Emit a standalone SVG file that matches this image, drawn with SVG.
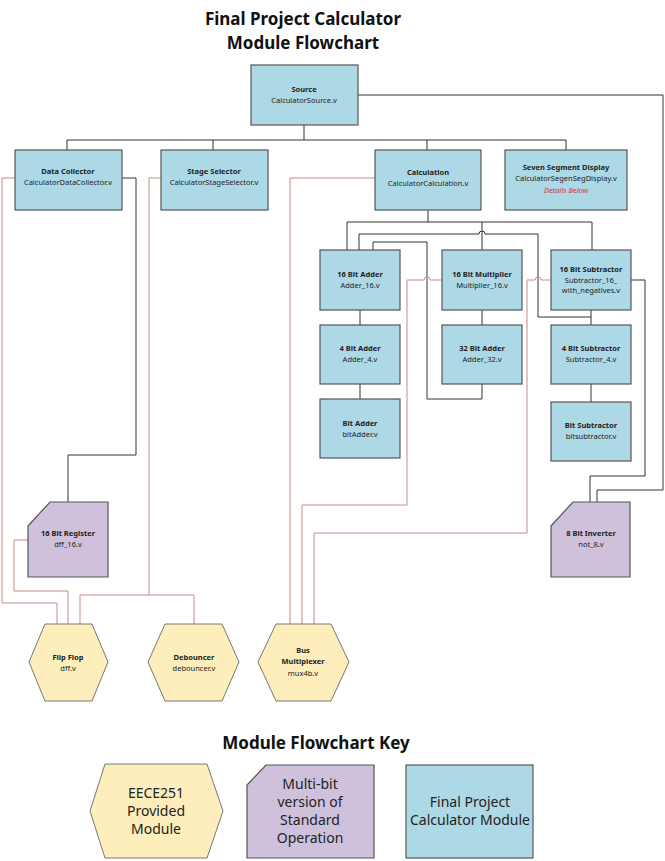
<svg xmlns="http://www.w3.org/2000/svg" width="665" height="861" viewBox="0 0 665 861">
<style>
text{font-family:"Noto Sans","Liberation Sans",sans-serif;fill:#222;text-anchor:middle}
.t{font-size:7.5px;font-weight:bold}
.f{font-size:7.5px}
.r{fill:#add8e6;stroke:#555;stroke-width:1.2}
.p{fill:#cfc0dc;stroke:#555;stroke-width:1.2}
.h{fill:#fdeebb;stroke:#777;stroke-width:1}
.k{fill:none;stroke:#333;stroke-width:1}
.c{fill:none;stroke:#c98b86;stroke-width:1}
.big{font-size:17px;font-weight:bold;fill:#111}
.key{font-size:14px}
</style>
<rect width="665" height="861" fill="#fff"/>
<text class="big" x="303" y="25">Final Project Calculator</text>
<text class="big" x="303" y="49">Module Flowchart</text>
<g id="connectors">
<path class="k" d="M304 125V140M67 150V140H566V150M213 140V150M427 140V150"/>
<path class="k" d="M358 95H663V490H597V502"/>
<path class="k" d="M428 210V222M347 250V222H592V250M482 222V250"/>
<path class="k" d="M359 250V234H479a3 3 0 0 1 6 0H538V317H591"/>
<path class="k" d="M373 250V242H427V399H482V384"/>
<path class="k" d="M360 310V325M360 384V399M482 310V325M591 310V325M591 384V402"/>
<path class="k" d="M631 280H645V476H590V502"/>
<path class="k" d="M122 178H136V455H68V502"/>
<path class="c" d="M28 540H14V591H68V624"/>
<path class="c" d="M15 178H2V603H57V624"/>
<path class="c" d="M161 178H149V595M80 624V595H194V624"/>
<path class="c" d="M375 178H290V624"/>
<path class="c" d="M442 280H430a3 3 0 0 0 -6 0H407V505H302V624"/>
<path class="c" d="M551 280H541a3 3 0 0 0 -6 0H527V533H314V624"/>
</g>
<g id="source"><rect class="r" x="251" y="65" width="107" height="60"/><text class="t" x="304" y="92">Source</text><text class="f" x="304" y="103">CalculatorSource.v</text></g>
<g id="datacollector"><rect class="r" x="15" y="150" width="107" height="60"/><text class="t" x="68" y="174">Data Collector</text><text class="f" x="68" y="185">CalculatorDataCollector.v</text></g>
<g id="stageselector"><rect class="r" x="161" y="150" width="107" height="60"/><text class="t" x="214" y="174">Stage Selector</text><text class="f" x="214" y="185">CalculatorStageSelector.v</text></g>
<g id="calculation"><rect class="r" x="375" y="150" width="106" height="60"/><text class="t" x="428" y="175">Calculation</text><text class="f" x="428" y="186">CalculatorCalculation.v</text></g>
<g id="sevenseg"><rect class="r" x="505" y="150" width="122" height="60"/><text class="t" x="566" y="170">Seven Segment Display</text><text class="f" x="566" y="181">CalculatorSegenSegDisplay.v</text><text class="f" x="566" y="193" style="fill:#d33;font-style:italic">Details Below</text></g>
<g id="adder16"><rect class="r" x="320" y="250" width="80" height="60"/><text class="t" x="360" y="277">16 Bit Adder</text><text class="f" x="360" y="288">Adder_16.v</text></g>
<g id="mult16"><rect class="r" x="442" y="250" width="80" height="60"/><text class="t" x="482" y="277">16 Bit Multiplier</text><text class="f" x="482" y="288">Multiplier_16.v</text></g>
<g id="sub16"><rect class="r" x="551" y="250" width="80" height="60"/><text class="t" x="591" y="272">16 Bit Subtractor</text><text class="f" x="591" y="283">Subtractor_16_</text><text class="f" x="591" y="293">with_negatives.v</text></g>
<g id="adder4"><rect class="r" x="320" y="325" width="80" height="59"/><text class="t" x="360" y="351">4 Bit Adder</text><text class="f" x="360" y="362">Adder_4.v</text></g>
<g id="adder32"><rect class="r" x="442" y="325" width="80" height="59"/><text class="t" x="482" y="351">32 Bit Adder</text><text class="f" x="482" y="362">Adder_32.v</text></g>
<g id="sub4"><rect class="r" x="551" y="325" width="80" height="59"/><text class="t" x="591" y="351">4 Bit Subtractor</text><text class="f" x="591" y="362">Subtractor_4.v</text></g>
<g id="bitadder"><rect class="r" x="320" y="399" width="80" height="59"/><text class="t" x="360" y="426">Bit Adder</text><text class="f" x="360" y="437">bitAdder.v</text></g>
<g id="bitsub"><rect class="r" x="551" y="402" width="80" height="59"/><text class="t" x="591" y="428">Bit Subtractor</text><text class="f" x="591" y="439">bitsubtractor.v</text></g>
<g id="register"><path class="p" d="M28 526L50 502H108V577H28Z"/><text class="t" x="68" y="536">16 Bit Register</text><text class="f" x="68" y="547">dff_16.v</text></g>
<g id="inverter"><path class="p" d="M551 526L573 502H630V577H551Z"/><text class="t" x="591" y="536">8 Bit Inverter</text><text class="f" x="591" y="547">not_8.v</text></g>
<g id="flipflop"><path class="h" d="M45 624H92L108 662L92 701H45L29 662Z"/><text class="t" x="68" y="660">Flip Flop</text><text class="f" x="68" y="671">dff.v</text></g>
<g id="debouncer"><path class="h" d="M165 624H222L239 662L222 701H165L148 662Z"/><text class="t" x="194" y="660">Debouncer</text><text class="f" x="194" y="671">debouncer.v</text></g>
<g id="busmux"><path class="h" d="M276 624H331L349 662L331 701H276L258 662Z"/><text class="t" x="303" y="653">Bus</text><text class="t" x="303" y="664">Multiplexer</text><text class="f" x="303" y="676">mux4b.v</text></g>
<text class="big" x="316" y="749">Module Flowchart Key</text>
<g id="key-provided"><path class="h" d="M105 764H207L223 811L207 858H105L90 811Z"/><text class="key" x="156" y="798">EECE251</text><text class="key" x="156" y="816">Provided</text><text class="key" x="156" y="834">Module</text></g>
<g id="key-multibit"><path class="p" d="M247 785L266 765H374V858H247Z"/><text class="key" x="310" y="789">Multi-bit</text><text class="key" x="310" y="807">version of</text><text class="key" x="310" y="825">Standard</text><text class="key" x="310" y="843">Operation</text></g>
<g id="key-final"><rect class="r" x="406" y="765" width="127" height="93"/><text class="key" x="470" y="807">Final Project</text><text class="key" x="470" y="825">Calculator Module</text></g>
</svg>
